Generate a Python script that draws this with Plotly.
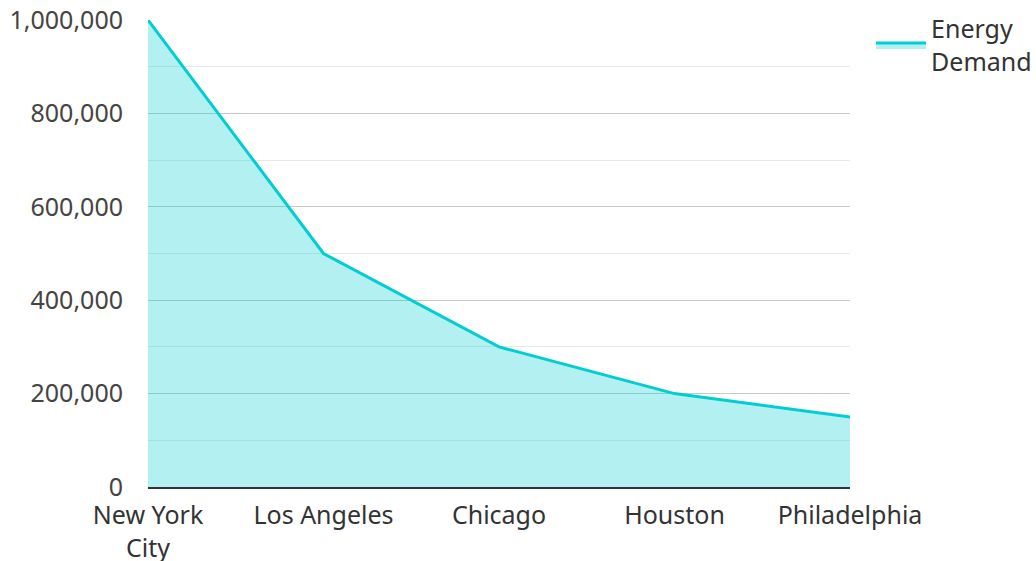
import plotly.graph_objects as go

cities = ["New York City", "Los Angeles", "Chicago", "Houston", "Philadelphia"]
tick_labels = ["New York<br>City", "Los Angeles", "Chicago", "Houston", "Philadelphia"]
energy_demand = [1000000, 500000, 300000, 200000, 150000]

fig = go.Figure()
fig.add_trace(go.Scatter(
    x=cities, y=energy_demand, name="Energy<br>Demand",
    mode="lines", fill="tozeroy",
    line=dict(color="#00CED1", width=3),
    fillcolor="rgba(0,206,209,0.3)",
))

font_family = "Noto Sans, Open Sans, sans-serif"
fig.update_layout(
    width=1036, height=561,
    margin=dict(l=148, r=186, t=20, b=74, autoexpand=False),
    paper_bgcolor="white", plot_bgcolor="white",
    font=dict(family=font_family, size=25, color="#333"),
    showlegend=True,
    legend=dict(x=1.03, y=1.03, xanchor="left", yanchor="top",
                font=dict(size=25, color="#333"), itemwidth=50),
)
fig.update_xaxes(
    type="category", range=[0, 4], automargin=False,
    tickvals=cities, ticktext=tick_labels,
    showgrid=False, showline=True, linecolor="#333", linewidth=2,
    ticks="", ticklabelstandoff=5, tickfont=dict(size=25, color="#333"),
)
fig.update_yaxes(
    range=[0, 1000000], dtick=200000, tickformat=",", automargin=False,
    showgrid=True, gridcolor="#c8c8c8", gridwidth=1,
    minor=dict(dtick=100000, showgrid=True, gridcolor="#e8e8e8"),
    zeroline=False, showline=False, ticks="", ticklabelstandoff=24,
    tickfont=dict(size=25, color="#444"),
)
fig.write_html("out.html")
